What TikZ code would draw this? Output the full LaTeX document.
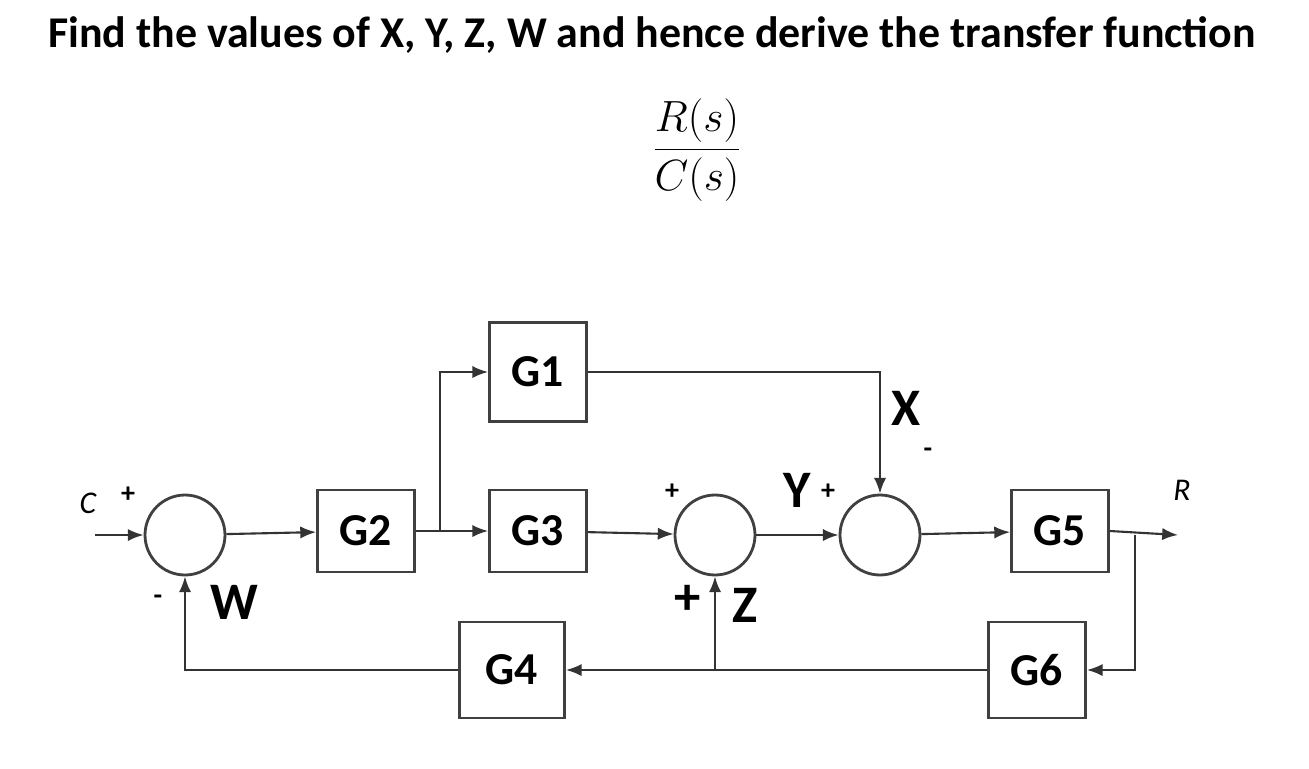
\documentclass[tikz,border=0pt]{standalone}
\usepackage{fontspec}
\setmainfont{Carlito}
\usetikzlibrary{arrows.meta}
\begin{document}
\begin{tikzpicture}[x=0.02cm,y=-0.02cm,
  blk/.style={draw=black!75,line width=1.6pt,minimum width=1.94cm,minimum height=1.64cm,inner sep=0pt,font=\fontsize{26}{28}\selectfont\bfseries},
  sum/.style={circle,draw=black!75,line width=1.6pt,minimum size=1.6cm,inner sep=0pt},
  ln/.style={draw=black!80,line width=1.2pt},
  ar/.style={ln,-{Latex[length=9pt,width=7pt]}},
  lab/.style={font=\fontsize{30}{32}\selectfont\bfseries},
  sg/.style={font=\fontsize{16}{18}\selectfont\bfseries}]
\useasboundingbox (0,0) rectangle (1309,768);
\node[font=\fontsize{25}{30}\selectfont\bfseries] (title) at (652,35) {Find the values of X, Y, Z, W and hence derive the transfer function};
\node[font=\fontsize{30}{34}\selectfont] (frac) at (697,150) {$\displaystyle\frac{R(s)}{C(s)}$};
\node[sum] (s1) at (185,535) {};
\node[blk] (g2) at (366,531) {G2};
\node[blk,minimum height=1.98cm] (g1) at (538,372) {G1};
\node[blk] (g3) at (538,531) {G3};
\node[sum] (s2) at (715,535) {};
\node[sum] (s3) at (880,535) {};
\node[blk] (g5) at (1060,531) {G5};
\node[blk,minimum width=2.1cm,minimum height=1.92cm] (g4) at (512,670) {G4};
\node[blk,minimum height=1.92cm] (g6) at (1037,670) {G6};
\coordinate (in) at (95,535);
\coordinate (out) at (1178,535);
\coordinate (b1) at (440,531);
\coordinate (b2) at (1135,535);
\coordinate (b3) at (715,670);
\draw[ar] (in) -- (s1);
\draw[ar] (s1) -- (g2);
\draw[ln] (g2.east) -- (b1);
\draw[ar] (b1) -- (g3);
\draw[ar] (b1) |- (g1.west);
\draw[ar] (g1.east) -| (s3.north);
\draw[ar] (g3) -- (s2);
\draw[ar] (s2) -- (s3);
\draw[ar] (s3) -- (g5);
\draw[ar] (g5.east) -- (out);
\draw[ar] (b2) |- (g6.east);
\draw[ar] (g6) -- (g4);
\draw[ar] (b3) -- (s2.south);
\draw[ar] (g4.west) -| (s1.south);
\node[font=\fontsize{18}{20}\selectfont\itshape] (lc) at (88,503) {C};
\node[sg] (p1) at (128,495) {+};
\node[font=\fontsize{18}{20}\selectfont\itshape] (lr) at (1182,490) {R};
\node[lab] (lw) at (234,602) {W};
\node[sg] (m1) at (158,600) {-};
\node[lab] (lz) at (745,605) {Z};
\node[lab] (pz) at (688,600) {+};
\node[lab] (lx) at (906,408) {X};
\node[sg] (mx) at (928,453) {-};
\node[lab] (ly) at (797,490) {Y};
\node[sg] (py) at (828,492) {+};
\node[sg] (p2) at (672,492) {+};
\end{tikzpicture}
\end{document}
